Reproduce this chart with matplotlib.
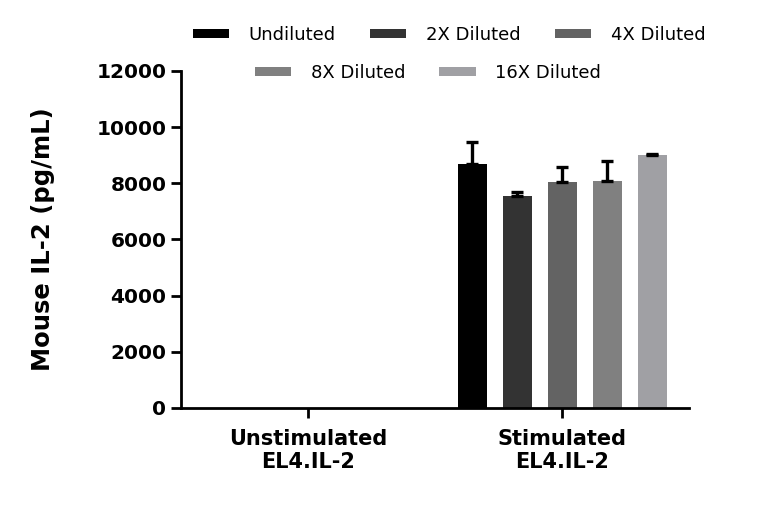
import matplotlib
matplotlib.use("Agg")
import matplotlib.pyplot as plt
import numpy as np
from matplotlib.patches import Patch

plt.rcParams['font.family'] = ['DejaVu Sans']

groups = ["Unstimulated\nEL4.IL-2", "Stimulated\nEL4.IL-2"]
series = ["Undiluted", "2X Diluted", "4X Diluted", "8X Diluted", "16X Diluted"]
values = {
    "Undiluted":   [0, 8690],
    "2X Diluted":  [0, 7560],
    "4X Diluted":  [0, 8060],
    "8X Diluted":  [0, 8100],
    "16X Diluted": [0, 9000],
}
errors = {
    "Undiluted":   [0, 780],
    "2X Diluted":  [0, 130],
    "4X Diluted":  [0, 510],
    "8X Diluted":  [0, 710],
    "16X Diluted": [0, 40],
}
colors = ["#000000", "#333333", "#636363", "#808080", "#a0a0a4"]

fig = plt.figure(figsize=(7.68, 5.07), dpi=100)
ax = fig.add_axes([0.2357, 0.1953, 0.662, 0.6647])

x = np.arange(len(groups))
spacing = 0.177
width = 0.115
handles = []
for i, (s, c) in enumerate(zip(series, colors)):
    pos = x + (i - 2) * spacing
    vals = np.array(values[s])
    errs = np.array(errors[s])
    ax.bar(pos, vals, width=width, color=c, zorder=2)
    m = errs > 0
    ax.errorbar(pos[m], vals[m], yerr=[np.zeros(m.sum()), errs[m]], fmt='none',
                ecolor='black', elinewidth=2.4, capsize=4.5, capthick=2.4, zorder=3)
    handles.append(Patch(facecolor=c, label=s))

ax.set_xlim(-0.5, 1.5)
ax.set_ylim(0, 12000)
ax.set_yticks(np.arange(0, 12001, 2000))
ax.set_xticks(x)
ax.set_xticklabels(groups, fontsize=15, fontweight='bold', linespacing=1.2)
for lab in ax.get_yticklabels():
    lab.set_fontsize(14.5)
    lab.set_fontweight('bold')
ax.set_ylabel("Mouse IL-2 (pg/mL)", fontsize=17.5, fontweight='bold', labelpad=30)
for sp in ['top', 'right']:
    ax.spines[sp].set_visible(False)
for sp in ['left', 'bottom']:
    ax.spines[sp].set_linewidth(2)
    ax.spines[sp].set_zorder(5)
ax.tick_params(axis='both', width=2, length=7, direction='out')
ax.tick_params(axis='x', pad=8)

kw = dict(frameon=False, fontsize=13, handlelength=2.0, handleheight=0.4,
          columnspacing=1.9, handletextpad=1.1)
leg1 = fig.legend(handles=handles[:3], loc='center', bbox_to_anchor=(449/768, 1 - 35/507),
                  ncol=3, **kw)
leg2 = fig.legend(handles=handles[3:], loc='center', bbox_to_anchor=(428/768, 1 - 73/507),
                  ncol=2, **kw)

fig.savefig("out.png", dpi=100)
